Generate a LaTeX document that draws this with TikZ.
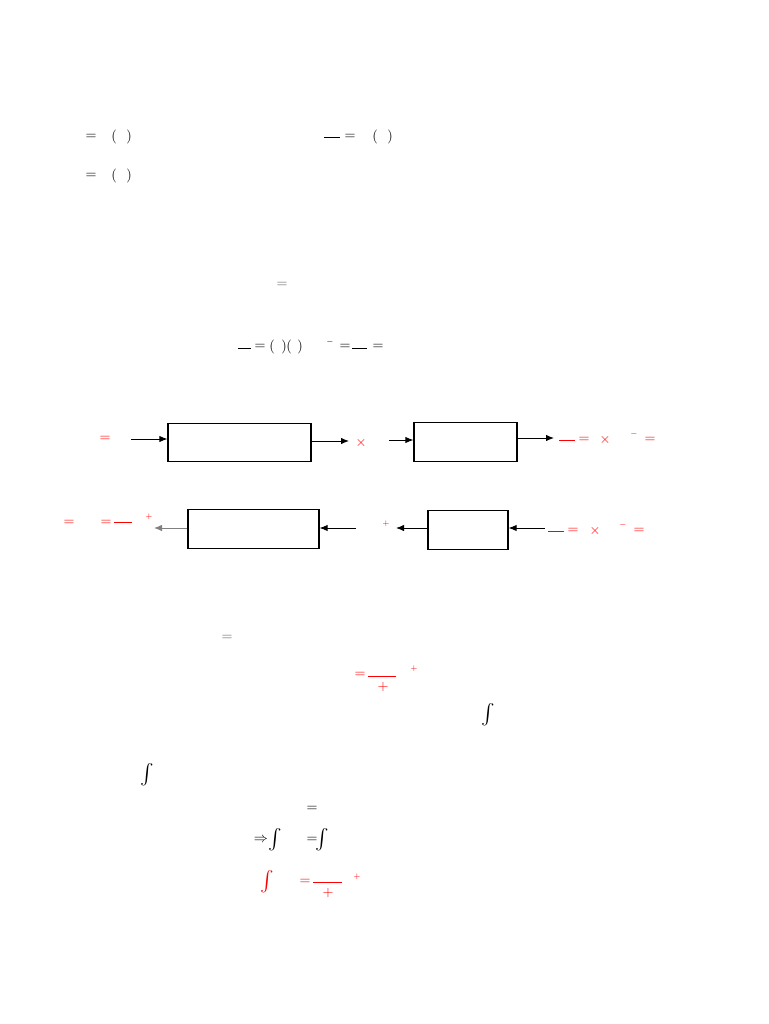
\documentclass[tikz,border=0pt]{standalone}
\usepackage{exscale}
\usetikzlibrary{arrows.meta}
\tikzset{
  blk/.style={draw,line width=0.9pt,minimum height=9.6mm,inner sep=0pt},
  sym/.style={inner sep=0pt,font=\normalsize},
  rsym/.style={sym,text=red},
  sup/.style={inner sep=0pt,font=\tiny},
  flow/.style={line width=0.6pt,-{Latex[length=2mm,width=1.6mm]}},
}
\begin{document}
\begin{tikzpicture}[x=0.25mm,y=-0.25mm]
        \useasboundingbox (0,0) rectangle (768,1024);
        % first lines
        \node[sym] (eqa) at (91,137){$=$};
        \node[sym] (pla) at (114,137){$($};
        \node[sym] (pra) at (129,137){$)$};
        \draw[line width=0.6pt] (324,137) -- (340,137);
        \node[sym] (eqb) at (350,137){$=$};
        \node[sym] (plb) at (375,137){$($};
        \node[sym] (prb) at (390,137){$)$};
        \node[sym] (eqc) at (91,176){$=$};
        \node[sym] (plc) at (114,176){$($};
        \node[sym] (prc) at (129,176){$)$};
        \node[sym,text=black!60] (eqd) at (282,285){$=$};
        % product line
        \draw[line width=0.6pt] (238,348) -- (251,348);
        \node[sym] (eqe) at (260,347){$=$};
        \node[sym] (ple) at (272,347){$($};
        \node[sym] (pre) at (284,347){$)$};
        \node[sym] (plf) at (289,347){$($};
        \node[sym] (prf) at (300,347){$)$};
        \node[sup] (mna) at (330,342){$-$};
        \node[sym] (eqf) at (345,347){$=$};
        \draw[line width=0.6pt] (352,348) -- (367,348);
        \node[sym] (eqg) at (378,347){$=$};
        % upper chain
        \node[blk,minimum width=35.75mm] (boxa) at (239.5,442.5){};
        \node[blk,minimum width=25.75mm] (boxb) at (465.5,442){};
        \coordinate (ina) at (131,439);
        \coordinate (outa) at (349,441);
        \coordinate (inb) at (389,440);
        \coordinate (outb) at (554,438);
        \draw[flow] (ina) -- (ina -| boxa.west);
        \draw[flow] (boxa.east |- outa) -- (outa);
        \draw[flow] (inb) -- (inb -| boxb.west);
        \draw[flow] (boxb.east |- outb) -- (outb);
        \node[rsym] (eqh) at (105,439){$=$};
        \node[rsym] (tma) at (361,443){$\times$};
        \draw[red,line width=0.6pt] (559,440) -- (575,440);
        \node[rsym] (eqi) at (584,440){$=$};
        \node[rsym] (tmb) at (605,440){$\times$};
        \node[sup,text=red] (mnb) at (634,434){$-$};
        \node[rsym] (eqj) at (650,440){$=$};
        % lower chain
        \node[blk,minimum width=32.75mm] (boxc) at (253.5,529){};
        \node[blk,minimum width=20mm] (boxd) at (468,530){};
        \coordinate (outc) at (154,528);
        \coordinate (inc) at (356,528);
        \coordinate (outd) at (396,528);
        \coordinate (ind) at (545,528);
        \draw[flow,draw=gray,fill=black] (boxc.west |- outc) -- (outc);
        \draw[flow] (inc) -- (inc -| boxc.east);
        \draw[flow] (boxd.west |- outd) -- (outd);
        \draw[flow] (ind) -- (ind -| boxd.east);
        \node[rsym] (eqk) at (69,523){$=$};
        \node[rsym] (eql) at (106,523){$=$};
        \draw[red,line width=0.6pt] (114,522) -- (132,522);
        \node[sup,text=red] (psa) at (149,517){$+$};
        \node[sup,text=red] (psb) at (386,524){$+$};
        \draw[red,line width=0.6pt] (548,531) -- (564,531);
        \node[rsym] (eqm) at (573,531){$=$};
        \node[rsym] (tmc) at (595,531){$\times$};
        \node[sup,text=red] (mnc) at (623,525){$-$};
        \node[rsym] (eqn) at (639,531){$=$};
        % lower part
        \node[sym,text=black!60] (eqo) at (227,638){$=$};
        \node[rsym] (eqp) at (360,675){$=$};
        \draw[red,line width=0.6pt] (368,676) -- (396,676);
        \node[rsym] (psc) at (383,687){$+$};
        \node[sup,text=red] (psd) at (414,669){$+$};
        \node[sym,font=\Large] (intA) at (488,715){$\int$};
        \node[sym,font=\Large] (intB) at (147,775){$\int$};
        \node[sym] (eqq) at (312,809){$=$};
        \node[sym] (imp) at (261,840){$\Rightarrow$};
        \node[sym,font=\Large] (intC) at (275,840){$\int$};
        \node[sym] (eqr) at (312,840){$=$};
        \node[sym,font=\Large] (intD) at (322,840){$\int$};
        \node[rsym,font=\Large] (intE) at (267,882){$\int$};
        \node[rsym] (eqs) at (305,882){$=$};
        \draw[red,line width=0.6pt] (313,882) -- (342,882);
        \node[rsym] (pse) at (328,893){$+$};
        \node[sup,text=red] (psf) at (357,877){$+$};
\end{tikzpicture}
\end{document}
